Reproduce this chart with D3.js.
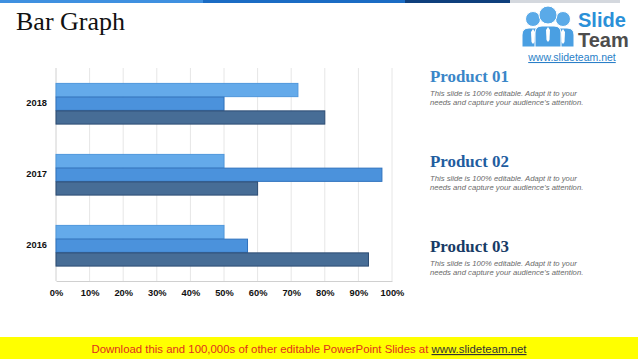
<!DOCTYPE html>
<html>
<head>
<meta charset="utf-8">
<script src="https://cdn.jsdelivr.net/npm/d3@7"></script>
<style>
html,body{margin:0;padding:0;background:#fff;}
svg{display:block;}
</style>
</head>
<body>
<svg id="chart" width="638" height="359"></svg>
<script>
const years = ["2018", "2017", "2016"];
const seriesNames = ["Product 01", "Product 02", "Product 03"];
const product01 = [0.72, 0.50, 0.50];
const product02 = [0.50, 0.97, 0.57];
const product03 = [0.80, 0.60, 0.93];
const tickValues = [0, 0.1, 0.2, 0.3, 0.4, 0.5, 0.6, 0.7, 0.8, 0.9, 1.0];
const description = ["This slide is 100% editable. Adapt it to your", "needs and capture your audience’s attention."];

const seriesValues = [product01, product02, product03];
const fills = ["#64aaea", "#4b92dc", "#476d96"];
const strokes = ["#4f97dc", "#2f72bd", "#2c4c73"];
const headColors = ["#3a86c8", "#1f5d9f", "#173b66"];

const svg = d3.select("#chart");

// top stripe
svg.append("rect").attr("x",0).attr("y",0).attr("width",203).attr("height",3).attr("fill","#3f90e0");
svg.append("rect").attr("x",203).attr("y",0).attr("width",202).attr("height",3).attr("fill","#1b6cc4");
svg.append("rect").attr("x",405).attr("y",0).attr("width",105).attr("height",3).attr("fill","#0f3f7c");
svg.append("rect").attr("x",510).attr("y",0).attr("width",110).attr("height",3).attr("fill","#d4d8de");

// title
svg.append("text").attr("x",16).attr("y",30).text("Bar Graph")
  .attr("font-family","Georgia, 'Liberation Serif', serif").attr("font-size",25)
  .attr("textLength",109).attr("lengthAdjust","spacingAndGlyphs").attr("fill","#111");

// logo
const logo = svg.append("g");
const people = [{cx:533,cy:19,r:7.5,bw:22,top:28},{cx:563,cy:19,r:7.5,bw:22,top:28},{cx:548,cy:15,r:9,bw:26,top:26}];
people.forEach(p=>{
  logo.append("path")
    .attr("d",`M${p.cx-p.bw/2},47 L${p.cx-p.bw/2},${p.top+7} Q${p.cx-p.bw/2},${p.top} ${p.cx-p.bw/2+7},${p.top} L${p.cx+p.bw/2-7},${p.top} Q${p.cx+p.bw/2},${p.top} ${p.cx+p.bw/2},${p.top+7} L${p.cx+p.bw/2},47 Z`)
    .attr("fill","#4a9fe2").attr("stroke","#fff").attr("stroke-width",1);
  logo.append("circle").attr("cx",p.cx).attr("cy",p.cy).attr("r",p.r).attr("fill","#5aaae8").attr("stroke","#fff").attr("stroke-width",1);
  logo.append("path").attr("d",`M${p.cx},${p.top+1} L${p.cx+2},${p.top+4} L${p.cx+1.5},${p.top+14} L${p.cx},${p.top+16} L${p.cx-1.5},${p.top+14} L${p.cx-2},${p.top+4} Z`).attr("fill","#fff");
});
logo.append("text").attr("x",578).attr("y",27).text("Slide")
  .attr("font-family","Arial, 'Liberation Sans', sans-serif").attr("font-weight","bold").attr("font-size",20).attr("fill","#2a90d8");
logo.append("text").attr("x",578).attr("y",47).text("Team")
  .attr("font-family","Arial, 'Liberation Sans', sans-serif").attr("font-weight","bold").attr("font-size",20).attr("fill","#4d4d4d");
logo.append("text").attr("x",572).attr("y",61).attr("text-anchor","middle").text("www.slideteam.net")
  .attr("font-family","Arial, 'Liberation Sans', sans-serif").attr("font-size",10.5).attr("fill","#2a7fc8").attr("text-decoration","underline");

// chart
const x = d3.scaleLinear().domain([0,1]).range([56,392]);
const y = d3.scaleBand().domain(years).range([68,281]).paddingInner(0.42).paddingOuter(0.21);
const ys = d3.scaleBand().domain(d3.range(seriesNames.length)).range([0,y.bandwidth()]);

// gridlines
svg.append("g").selectAll("line").data(tickValues.slice(1)).join("line")
  .attr("x1",d=>x(d)).attr("x2",d=>x(d)).attr("y1",68).attr("y2",281)
  .attr("stroke","#e6e6e6").attr("stroke-width",1);
svg.append("line").attr("x1",x(0)).attr("x2",x(0)).attr("y1",68).attr("y2",281).attr("stroke","#d0d0d0");

// bars
const groups = svg.append("g").selectAll("g").data(years).join("g")
  .attr("transform",d=>`translate(0,${y(d)})`);
seriesValues.forEach((vals,si)=>{
  groups.append("rect")
    .attr("x",x(0))
    .attr("y",ys(si)+0.5)
    .attr("width",(d,i)=>x(vals[i])-x(0))
    .attr("height",ys.bandwidth()-0.5)
    .attr("fill",fills[si]).attr("stroke",strokes[si]).attr("stroke-width",1);
});

// x axis
const xAxis = d3.axisBottom(x).tickValues(tickValues).tickFormat(d3.format(".0%")).tickSize(0).tickPadding(8);
const gx = svg.append("g").attr("transform","translate(0,281)").call(xAxis);
gx.select(".domain").attr("stroke","#d0d0d0");
gx.selectAll("text").attr("font-family","Arial, 'Liberation Sans', sans-serif").attr("font-size",9.3).attr("font-weight","bold").attr("fill","#111");

// y axis
const yAxis = d3.axisLeft(y).tickSize(0).tickPadding(9);
const gy = svg.append("g").attr("transform",`translate(${x(0)},0)`).call(yAxis);
gy.select(".domain").remove();
gy.selectAll("text").attr("font-family","Arial, 'Liberation Sans', sans-serif").attr("font-size",9.3).attr("font-weight","bold").attr("fill","#111");

// product notes
const noteY = [82, 167, 252];
seriesNames.forEach((name,i)=>{
  svg.append("text").attr("x",430).attr("y",noteY[i]).text(name)
    .attr("font-family","Georgia, 'Liberation Serif', serif").attr("font-weight","bold").attr("font-size",16)
    .attr("textLength",79).attr("lengthAdjust","spacingAndGlyphs").attr("fill",headColors[i]);
  description.forEach((line,j)=>{
    svg.append("text").attr("x",430).attr("y",noteY[i]+13.5+j*9.7).text(line)
      .attr("font-family","Arial, 'Liberation Sans', sans-serif").attr("font-style","italic").attr("font-size",7.7)
      .attr("fill","#6a6a6a");
  });
});

// footer
svg.append("rect").attr("x",0).attr("y",337).attr("width",638).attr("height",22).attr("fill","#ffff00");
const ft = svg.append("text").attr("x",309).attr("y",353).attr("text-anchor","middle")
  .attr("font-family","Arial, 'Liberation Sans', sans-serif").attr("font-size",11.4);
ft.append("tspan").attr("fill","#e0301e").text("Download this and 100,000s of other editable PowerPoint Slides at ");
ft.append("tspan").attr("fill","#333").attr("text-decoration","underline").text("www.slideteam.net");
</script>
</body>
</html>
